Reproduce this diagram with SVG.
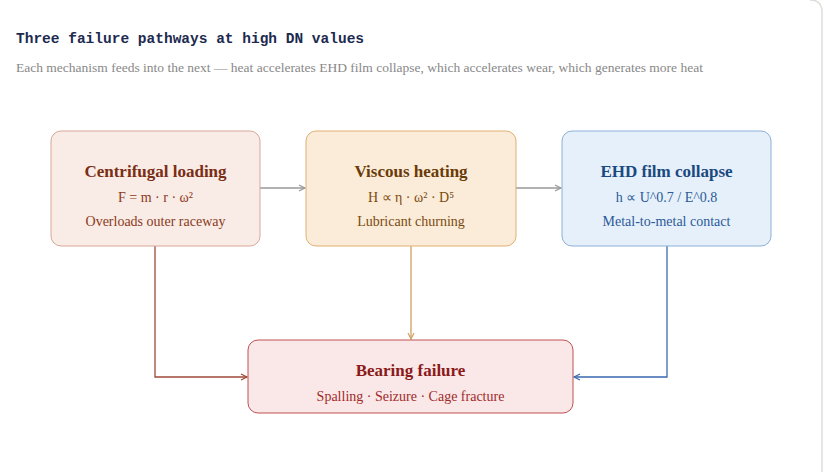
<svg xmlns="http://www.w3.org/2000/svg" width="828" height="472" viewBox="0 0 828 472">
<style>
.t{font-family:"Liberation Serif",serif;font-weight:bold;font-size:17px;text-anchor:middle}
.s{font-family:"Liberation Serif",serif;font-size:14px;text-anchor:middle}
.c{fill:none;stroke-width:1.3}
</style>
<defs>
<marker id="ag" markerWidth="10" markerHeight="10" refX="7" refY="4" orient="auto" markerUnits="userSpaceOnUse"><path d="M1,1 L7,4 L1,7" fill="none" stroke="#999" stroke-width="1.2"/></marker>
<marker id="ar" markerWidth="10" markerHeight="10" refX="7" refY="4" orient="auto" markerUnits="userSpaceOnUse"><path d="M1,1 L7,4 L1,7" fill="none" stroke="#a04a3a" stroke-width="1.2"/></marker>
<marker id="ao" markerWidth="10" markerHeight="10" refX="7" refY="4" orient="auto" markerUnits="userSpaceOnUse"><path d="M1,1 L7,4 L1,7" fill="none" stroke="#d0a060" stroke-width="1.2"/></marker>
<marker id="ab" markerWidth="10" markerHeight="10" refX="7" refY="4" orient="auto" markerUnits="userSpaceOnUse"><path d="M1,1 L7,4 L1,7" fill="none" stroke="#3a6ab0" stroke-width="1.2"/></marker>
</defs>
<rect width="828" height="472" fill="#fff"/>
<path d="M810,0 Q822,0 822,12 L822,472" fill="none" stroke="#e0ddd8" stroke-width="1.5"/>
<text x="16" y="43" font-family="'Liberation Mono',monospace" font-weight="bold" font-size="14.5" fill="#1c2a50">Three failure pathways at high DN values</text>
<text x="16" y="72" font-family="'Liberation Serif',serif" font-size="13.5" fill="#888">Each mechanism feeds into the next — heat accelerates EHD film collapse, which accelerates wear, which generates more heat</text>
<g id="connectors">
<line class="c" x1="260" y1="188" x2="305" y2="188" stroke="#999" marker-end="url(#ag)"/>
<line class="c" x1="516" y1="188" x2="561" y2="188" stroke="#999" marker-end="url(#ag)"/>
<path class="c" d="M155,246 V377 H247" stroke="#a04a3a" marker-end="url(#ar)"/>
<line class="c" x1="411" y1="246" x2="411" y2="339" stroke="#d0a060" marker-end="url(#ao)"/>
<path class="c" d="M667,246 V377 H574" stroke="#3a6ab0" marker-end="url(#ab)"/>
</g>
<g id="centrifugal">
<rect x="51" y="131" width="209" height="115" rx="10" fill="#f9ebe6" stroke="#d8a898"/>
<text class="t" x="155.5" y="177" fill="#7a2e14">Centrifugal loading</text>
<text class="s" x="155.5" y="202" fill="#8a3a20">F = m · r · ω²</text>
<text class="s" x="155.5" y="226" fill="#8a3a20">Overloads outer raceway</text>
</g>
<g id="viscous">
<rect x="306" y="131" width="210" height="115" rx="10" fill="#faecd8" stroke="#e0b070"/>
<text class="t" x="411" y="177" fill="#6a3a08">Viscous heating</text>
<text class="s" x="411" y="202" fill="#7a4a10">H ∝ η · ω² · D⁵</text>
<text class="s" x="411" y="226" fill="#7a4a10">Lubricant churning</text>
</g>
<g id="ehd">
<rect x="562" y="131" width="209" height="115" rx="10" fill="#e6f0fa" stroke="#8ab0d8"/>
<text class="t" x="666.5" y="177" fill="#1a4a80">EHD film collapse</text>
<text class="s" x="666.5" y="202" fill="#2a5a98">h ∝ U^0.7 / E^0.8</text>
<text class="s" x="666.5" y="226" fill="#2a5a98">Metal-to-metal contact</text>
</g>
<g id="failure">
<rect x="248" y="340" width="325" height="73" rx="10" fill="#fae8e8" stroke="#c05050"/>
<text class="t" x="410.5" y="376" fill="#8a1a1a">Bearing failure</text>
<text class="s" x="410.5" y="401" fill="#a02a2a">Spalling · Seizure · Cage fracture</text>
</g>
</svg>
